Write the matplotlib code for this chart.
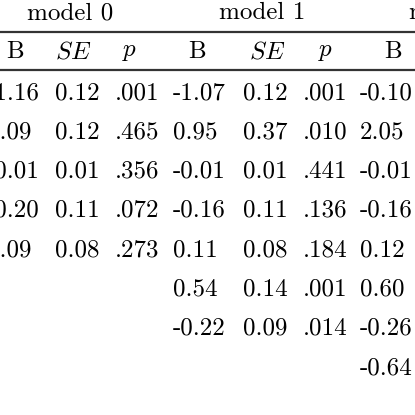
import matplotlib
matplotlib.use("Agg")
import matplotlib.pyplot as plt

plt.rcParams['mathtext.fontset'] = 'cm'
plt.rcParams['axes.unicode_minus'] = False

models = ["model 0", "model 1", "model 2"]
sub_headers = ["B", r"$SE$", r"$p$"]
B0 = ["-1.16", "0.09", "-0.01", "-0.20", "0.09"]
SE0 = ["0.12", "0.12", "0.01", "0.11", "0.08"]
P0 = [".001", ".465", ".356", ".072", ".273"]
B1 = ["-1.07", "0.95", "-0.01", "-0.16", "0.11", "0.54", "-0.22"]
SE1 = ["0.12", "0.37", "0.01", "0.11", "0.08", "0.14", "0.09"]
P1 = [".001", ".010", ".441", ".136", ".184", ".001", ".014"]
B2 = ["-0.10", "2.05", "-0.01", "-0.16", "0.12", "0.60", "-0.26", "-0.64"]

fig = plt.figure(figsize=(4.15, 4.15), dpi=100)
ax = fig.add_axes([0, 0, 1, 1])
ax.set_xlim(0, 415)
ax.set_ylim(415, 0)
ax.axis('off')

fs = 18
model_x = [70, 262, 452]
for m, x in zip(models, model_x):
    ax.text(x, 13, m, ha='center', va='center', fontsize=fs, family='cmr10')

hdr_x = [15, 73, 130, 197, 267, 326, 393]
hdr = sub_headers * 3
for h, x in zip(hdr, hdr_x):
    ax.text(x, 52, h, ha='center', va='center', fontsize=fs, family='cmr10')

ax.plot([0, 415], [32, 32], color='#333333', lw=1.6)
ax.plot([0, 415], [70, 70], color='#333333', lw=1.6)

row_y0, row_dy = 93, 39.3
cols = [(B0, -13), (SE0, 55), (P0, 115), (B1, 173), (SE1, 243), (P1, 303), (B2, 360)]
for vals, x in cols:
    for i, v in enumerate(vals):
        ax.text(x, row_y0 + i * row_dy, v, ha='left', va='center', fontsize=fs, family='cmr10')

fig.savefig("out.png", dpi=100)
